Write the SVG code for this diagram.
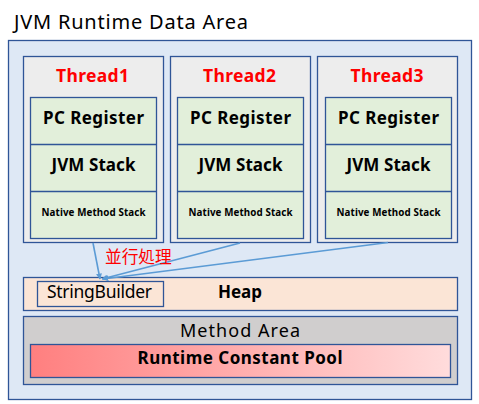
<svg xmlns="http://www.w3.org/2000/svg" width="479" height="404" viewBox="0 0 479 404">
<defs>
<style>
.box{stroke:#2f5597;stroke-width:1.3}
.t{font-family:"Noto Sans","Noto Sans CJK JP",sans-serif;fill:#000}
.b{font-weight:bold}
.red{fill:#ff0000}
.c{text-anchor:middle}
.conn{stroke:#5b9bd5;stroke-width:1.6;fill:none}
</style>
<linearGradient id="rcp" x1="0" y1="0" x2="1" y2="0">
<stop offset="0" stop-color="#ff7f7f"/>
<stop offset="1" stop-color="#ffdcdc"/>
</linearGradient>
<marker id="arr" viewBox="0 0 10 10" refX="9" refY="5" markerWidth="6" markerHeight="6" orient="auto" markerUnits="userSpaceOnUse">
<path d="M0,0 L10,5 L0,10 z" fill="#5b9bd5"/>
</marker>
</defs>
<rect width="479" height="404" fill="#ffffff"/>
<text class="t" x="14" y="29" font-size="20" textLength="234" lengthAdjust="spacing">JVM Runtime Data Area</text>
<g id="runtime-data-area">
<rect class="box" x="8.5" y="40.5" width="463" height="359" fill="#dee8f5"/>
</g>
<g id="thread1">
<rect class="box" x="23.5" y="56.5" width="140" height="186" fill="#ededed"/>
<text class="t b red c" x="92.5" y="81.5" font-size="17.5" textLength="73" lengthAdjust="spacing">Thread1</text>
<rect class="box" x="30.5" y="97.5" width="126" height="141" fill="#e2efda"/>
<line class="box" x1="30.5" y1="144.5" x2="156.5" y2="144.5"/>
<line class="box" x1="30.5" y1="191.5" x2="156.5" y2="191.5"/>
<text class="t b c" x="93.5" y="124" font-size="17" textLength="101" lengthAdjust="spacing">PC Register</text>
<text class="t b c" x="93.5" y="171" font-size="17" textLength="84" lengthAdjust="spacing">JVM Stack</text>
<text class="t b c" x="93.5" y="216" font-size="9.8" textLength="104" lengthAdjust="spacing">Native Method Stack</text>
</g>
<g id="thread2">
<rect class="box" x="170.5" y="56.5" width="140" height="186" fill="#ededed"/>
<text class="t b red c" x="239.5" y="81.5" font-size="17.5" textLength="73" lengthAdjust="spacing">Thread2</text>
<rect class="box" x="177.5" y="97.5" width="126" height="141" fill="#e2efda"/>
<line class="box" x1="177.5" y1="144.5" x2="303.5" y2="144.5"/>
<line class="box" x1="177.5" y1="191.5" x2="303.5" y2="191.5"/>
<text class="t b c" x="240.5" y="124" font-size="17" textLength="101" lengthAdjust="spacing">PC Register</text>
<text class="t b c" x="240.5" y="171" font-size="17" textLength="84" lengthAdjust="spacing">JVM Stack</text>
<text class="t b c" x="240.5" y="216" font-size="9.8" textLength="104" lengthAdjust="spacing">Native Method Stack</text>
</g>
<g id="thread3">
<rect class="box" x="317.5" y="56.5" width="140" height="186" fill="#ededed"/>
<text class="t b red c" x="387" y="81.5" font-size="17.5" textLength="73" lengthAdjust="spacing">Thread3</text>
<rect class="box" x="325.5" y="97.5" width="126" height="141" fill="#e2efda"/>
<line class="box" x1="325.5" y1="144.5" x2="451.5" y2="144.5"/>
<line class="box" x1="325.5" y1="191.5" x2="451.5" y2="191.5"/>
<text class="t b c" x="388.5" y="124" font-size="17" textLength="101" lengthAdjust="spacing">PC Register</text>
<text class="t b c" x="388.5" y="171" font-size="17" textLength="84" lengthAdjust="spacing">JVM Stack</text>
<text class="t b c" x="388.5" y="216" font-size="9.8" textLength="104" lengthAdjust="spacing">Native Method Stack</text>
</g>
<g id="heap">
<rect class="box" x="23.5" y="277.5" width="434" height="33" fill="#fbe5d6"/>
<text class="t b c" x="240" y="298" font-size="17">Heap</text>
</g>
<g id="stringbuilder">
<rect class="box" x="37.5" y="281.5" width="126" height="25" fill="#fbe5d6"/>
<text class="t c" x="99.5" y="298" font-size="17.5" textLength="105" lengthAdjust="spacing">StringBuilder</text>
</g>
<g id="method-area">
<rect class="box" x="23.5" y="316.5" width="434" height="68" fill="#d0cece"/>
<text class="t c" x="240" y="336.5" font-size="18" textLength="120" lengthAdjust="spacing">Method Area</text>
</g>
<g id="runtime-constant-pool">
<rect class="box" x="30.5" y="344.5" width="420" height="33" fill="url(#rcp)"/>
<text class="t b c" x="240" y="363.5" font-size="17" textLength="205" lengthAdjust="spacing">Runtime Constant Pool</text>
</g>
<g id="connectors">
<line class="conn" x1="93" y1="243" x2="100" y2="279" marker-end="url(#arr)"/>
<line class="conn" x1="240" y1="243" x2="102" y2="279" marker-end="url(#arr)"/>
<line class="conn" x1="388" y1="242.5" x2="103" y2="279" marker-end="url(#arr)"/>
<text class="t red" x="105" y="263" font-size="16.7">並行処理</text>
</g>
</svg>
